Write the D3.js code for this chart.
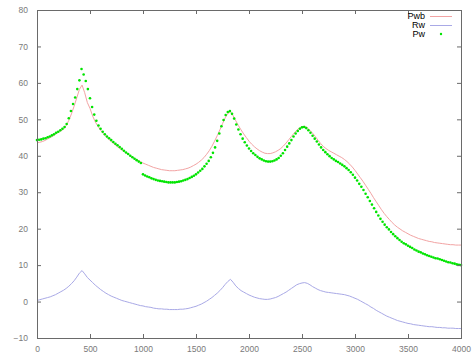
<!DOCTYPE html>
<html><head><meta charset="utf-8">
<script src="https://cdn.jsdelivr.net/npm/d3@7"></script>
<style>
html,body{margin:0;padding:0;background:#fff;}
svg{display:block;}
</style></head>
<body>
<svg id="chart" width="474" height="355"></svg>
<script>
// ---- data ----
const lineStep = 25;            // Hz between samples of Pwb and Rw, starting at 0
const dotStep = 20;             // Hz between samples of Pw, starting at 0
const xTicks = [0, 500, 1000, 1500, 2000, 2500, 3000, 3500, 4000];
const yTicks = [-10, 0, 10, 20, 30, 40, 50, 60, 70, 80];
const seriesNames = ["Pwb", "Rw", "Pw"];

const Pwb = [
 43.6, 43.7, 43.9, 44.2, 44.6, 45.0, 45.4, 45.9,
 46.4, 46.8, 47.3, 48.3, 49.7, 51.5, 53.6, 55.9,
 58.2, 59.4, 57.3, 54.6, 53.0, 50.9, 49.3, 48.1,
 47.0, 46.1, 45.3, 44.6, 43.9, 43.3, 42.7, 42.1,
 41.6, 41.1, 40.6, 40.1, 39.6, 39.2, 38.8, 38.4,
 38.0, 37.7, 37.4, 37.1, 36.8, 36.6, 36.4, 36.2,
 36.1, 36.0, 35.9, 35.9, 35.9, 36.0, 36.1, 36.2,
 36.4, 36.6, 36.9, 37.3, 37.7, 38.2, 38.8, 39.5,
 40.4, 41.4, 42.6, 44.0, 45.5, 47.1, 48.8, 50.4,
 51.6, 52.1, 51.0, 49.6, 48.3, 47.1, 46.0, 45.0,
 44.0, 43.2, 42.5, 41.9, 41.4, 41.0, 40.7, 40.6,
 40.6, 40.8, 41.1, 41.5, 42.0, 42.7, 43.5, 44.4,
 45.3, 46.2, 47.0, 47.6, 48.0, 48.1, 47.7, 47.0,
 46.2, 45.3, 44.3, 43.4, 42.6, 42.0, 41.5, 41.1,
 40.7, 40.3, 39.9, 39.5, 39.0, 38.4, 37.7, 36.9,
 36.0, 35.0, 34.0, 33.0, 31.9, 30.8, 29.7, 28.5,
 27.4, 26.3, 25.2, 24.2, 23.3, 22.5, 21.7, 21.0,
 20.4, 19.9, 19.4, 19.0, 18.6, 18.2, 17.9, 17.6,
 17.3, 17.1, 16.9, 16.7, 16.5, 16.4, 16.2, 16.1,
 16.0, 15.9, 15.8, 15.7, 15.6, 15.6, 15.5, 15.5,
 15.5
];

const Rw = [
 0.3, 0.5, 0.7, 0.9, 1.1, 1.3, 1.6, 1.9,
 2.3, 2.7, 3.1, 3.6, 4.2, 4.9, 5.7, 6.7,
 7.8, 8.5, 7.6, 6.6, 5.9, 5.2, 4.5, 3.9,
 3.3, 2.8, 2.3, 1.9, 1.5, 1.2, 0.9, 0.6,
 0.3, 0.1, -0.1, -0.3, -0.5, -0.7, -0.9, -1.1,
 -1.2, -1.4, -1.5, -1.6, -1.8, -1.9, -2.0, -2.0,
 -2.1, -2.1, -2.2, -2.2, -2.2, -2.2, -2.1, -2.1,
 -2.0, -1.9, -1.7, -1.5, -1.3, -1.0, -0.7, -0.3,
 0.1, 0.6, 1.1, 1.7, 2.3, 3.0, 3.8, 4.7,
 5.5, 6.1, 5.3, 4.3, 3.6, 3.0, 2.6, 2.2,
 1.8, 1.5, 1.2, 1.0, 0.8, 0.7, 0.6, 0.6,
 0.7, 0.9, 1.1, 1.4, 1.8, 2.2, 2.6, 3.1,
 3.6, 4.1, 4.6, 4.9, 5.1, 5.2, 5.0, 4.6,
 4.1, 3.7, 3.3, 3.0, 2.8, 2.6, 2.5, 2.4,
 2.3, 2.2, 2.1, 2.0, 1.9, 1.7, 1.5, 1.2,
 0.9, 0.6, 0.2, -0.2, -0.6, -1.0, -1.5, -1.9,
 -2.4, -2.8, -3.2, -3.6, -4.0, -4.3, -4.6, -4.9,
 -5.2, -5.4, -5.6, -5.8, -6.0, -6.1, -6.3, -6.4,
 -6.5, -6.6, -6.7, -6.8, -6.9, -6.9, -7.0, -7.1,
 -7.1, -7.2, -7.2, -7.3, -7.3, -7.3, -7.4, -7.4,
 -7.4
];

const Pw = [
 44.3, 44.4, 44.5, 44.7, 44.8, 45.1, 45.3, 45.6, 45.9, 46.3,
 46.6, 47.0, 47.4, 47.9, 48.7, 50.3, 52.3, 54.2, 56.0, 58.3,
 60.7, 63.8, 62.3, 60.5, 58.3, 55.8, 53.4, 51.3, 49.6, 48.3,
 47.4, 46.6, 45.9, 45.3, 44.8, 44.3, 43.8, 43.3, 42.9, 42.4,
 41.9, 41.4, 40.9, 40.5, 40.0, 39.6, 39.2, 38.8, 38.4, 38.0,
 34.9, 34.6, 34.3, 34.1, 33.8, 33.6, 33.4, 33.2, 33.1, 33.0,
 32.9, 32.8, 32.7, 32.7, 32.7, 32.7, 32.8, 32.9, 33.0, 33.2,
 33.4, 33.6, 33.9, 34.2, 34.5, 34.9, 35.4, 35.9, 36.4, 37.1,
 37.8, 38.6, 39.6, 40.8, 42.3, 44.1, 46.1, 48.1, 49.8, 51.2,
 52.0, 52.3, 51.5, 50.2, 48.6, 47.2, 45.9, 44.7, 43.7, 42.8,
 42.0, 41.3, 40.7, 40.2, 39.7, 39.3, 39.0, 38.7, 38.5, 38.4,
 38.4, 38.5, 38.7, 39.0, 39.4, 40.0, 40.7, 41.6, 42.5, 43.4,
 44.3, 45.3, 46.1, 46.8, 47.4, 47.8, 47.9, 47.6, 47.0, 46.3,
 45.5, 44.7, 43.9, 43.1, 42.3, 41.6, 41.0, 40.4, 39.9, 39.4,
 39.0, 38.6, 38.3, 37.9, 37.5, 37.1, 36.6, 36.1, 35.5, 34.8,
 34.0, 33.2, 32.3, 31.5, 30.6, 29.6, 28.6, 27.6, 26.6, 25.6,
 24.6, 23.6, 22.7, 21.9, 21.1, 20.4, 19.8, 19.1, 18.5, 17.9,
 17.4, 16.9, 16.4, 16.0, 15.7, 15.3, 15.0, 14.7, 14.3, 14.0,
 13.7, 13.5, 13.2, 13.0, 12.7, 12.5, 12.3, 12.1, 11.9, 11.8,
 11.6, 11.4, 11.2, 11.0, 10.8, 10.7, 10.5, 10.4, 10.2, 10.1,
 10.0
];

// ---- layout / style ----
const plotL = 37, plotR = 461, plotT = 10, plotB = 338;
const colPwb = "#f2a3a3", colRw = "#a9a9e6", colPw = "#00e400";
const axisCol = "#6a6a6a", labelCol = "#7a7a7a";

const svg = d3.select("#chart");
const x = d3.scaleLinear().domain([0, 4000]).range([plotL, plotR]);
const y = d3.scaleLinear().domain([-10, 80]).range([plotB, plotT]);

const pts = (arr, step) => arr.map((v, i) => ({f: i * step, v}));

// series
const line = d3.line().x(d => x(d.f)).y(d => y(d.v));
svg.append("path").attr("d", line(pts(Pwb, lineStep)))
  .attr("fill", "none").attr("stroke", colPwb).attr("stroke-width", 1);
svg.append("path").attr("d", line(pts(Rw, lineStep)))
  .attr("fill", "none").attr("stroke", colRw).attr("stroke-width", 1);
svg.append("g").selectAll("circle").data(pts(Pw, dotStep)).join("circle")
  .attr("cx", d => x(d.f)).attr("cy", d => y(d.v)).attr("r", 1.3)
  .attr("fill", colPw);

// axes with inward ticks (gnuplot style, mirrored)
const tickLen = 4;
const font = "'Liberation Sans', Arial, sans-serif";
function styleAxis(g) {
  g.select(".domain").remove();
  g.selectAll(".tick line").attr("stroke", axisCol);
  g.selectAll(".tick text").attr("fill", labelCol)
    .attr("font-family", font).attr("font-size", 8.5);
}
svg.append("g").attr("transform", `translate(0,${plotB})`)
  .call(d3.axisBottom(x).tickValues(xTicks).tickFormat(d3.format("d"))
    .tickSizeInner(-tickLen).tickSizeOuter(0).tickPadding(8))
  .call(styleAxis);
svg.append("g").attr("transform", `translate(0,${plotT})`)
  .call(d3.axisTop(x).tickValues(xTicks.slice(1, -1)).tickSizeInner(-tickLen).tickSizeOuter(0).tickFormat(""))
  .call(styleAxis);
svg.append("g").attr("transform", `translate(${plotL},0)`)
  .call(d3.axisLeft(y).tickValues(yTicks).tickFormat(d3.format("d"))
    .tickSizeInner(-tickLen).tickSizeOuter(0).tickPadding(9))
  .call(styleAxis);
svg.append("g").attr("transform", `translate(${plotR},0)`)
  .call(d3.axisRight(y).tickValues(yTicks.slice(1, -1)).tickSizeInner(-tickLen).tickSizeOuter(0).tickFormat(""))
  .call(styleAxis);

// border
svg.append("rect").attr("x", plotL + 0.5).attr("y", plotT + 0.5)
  .attr("width", plotR - plotL).attr("height", plotB - plotT)
  .attr("fill", "none").attr("stroke", axisCol).attr("stroke-width", 1);

// legend
const legY = [16, 25, 34];
const legend = svg.append("g");
seriesNames.forEach((name, i) => {
  legend.append("text").attr("x", 425).attr("y", legY[i]).attr("dy", "0.35em")
    .attr("text-anchor", "end").attr("font-family", font).attr("font-size", 9)
    .attr("fill", "#000").text(name);
});
legend.append("line").attr("x1", 430).attr("x2", 452).attr("y1", legY[0] + 0.5).attr("y2", legY[0] + 0.5)
  .attr("stroke", colPwb);
legend.append("line").attr("x1", 430).attr("x2", 452).attr("y1", legY[1] + 0.5).attr("y2", legY[1] + 0.5)
  .attr("stroke", colRw);
legend.append("circle").attr("cx", 441).attr("cy", legY[2]).attr("r", 1.2).attr("fill", colPw);
</script>
</body></html>
